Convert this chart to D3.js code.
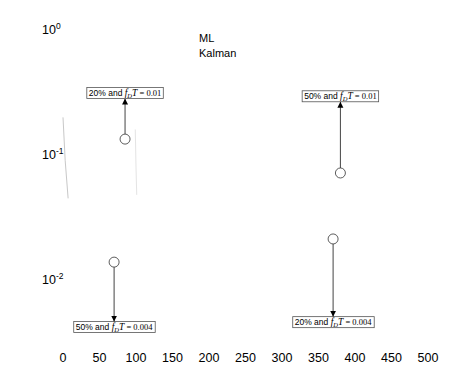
<!DOCTYPE html>
<html><head><meta charset="utf-8">
<script src="https://cdn.jsdelivr.net/npm/d3@7"></script>
<style>body{margin:0;background:#fff}svg{display:block}</style>
</head><body><svg id="c" width="474" height="391"></svg>
<script>
const xTicks = [0,50,100,150,200,250,300,350,400,450,500];
const yTickExps = [0,-1,-2];
const seriesNames = ["ML","Kalman"];
const mlX = [0,3,7];
const mlY = [0.2,0.09,0.045];
const kalmanX = [99,100,101];
const kalmanY = [0.16,0.08,0.048];
const annX = [85,380,70,370];
const annY = [0.134,0.0718,0.0139,0.0213];
const labelY = [0.313,0.295,0.0042,0.0046];
const labelPct = ["20%","50%","50%","20%"];
const labelVal = ["0.01","0.01","0.004","0.004"];

const svg = d3.select("#c");
const x = d3.scaleLinear().domain([0,500]).range([63,428]);
const y = d3.scaleLog().domain([Math.pow(10,-2.5),1]).range([342.5,30]);

// x tick labels
svg.append("g").selectAll("text").data(xTicks).join("text")
  .attr("x",d=>x(d)).attr("y",362).attr("text-anchor","middle")
  .attr("font-family","Liberation Sans, Arial, sans-serif").attr("font-size",12.5)
  .attr("fill","#000").text(d=>d);

// y tick labels
const yl = svg.append("g").selectAll("text").data(yTickExps).join("text")
  .attr("x",42).attr("y",d=>y(Math.pow(10,d))+4)
  .attr("font-family","Liberation Sans, Arial, sans-serif").attr("font-size",12.5).attr("fill","#000");
yl.append("tspan").text("10");
yl.append("tspan").attr("dy",-5).attr("font-size",8.5).text(d=>d);

// faint series
const line = d3.line().x(d=>x(d[0])).y(d=>y(d[1]));
svg.append("path").datum(d3.zip(mlX,mlY)).attr("d",line).attr("fill","none").attr("stroke","#c8c8c8").attr("stroke-width",1);
svg.append("path").datum(d3.zip(kalmanX,kalmanY)).attr("d",line).attr("fill","none").attr("stroke","#e4e4e4").attr("stroke-width",1);

// legend
svg.append("g").selectAll("text").data(seriesNames).join("text")
  .attr("x",199).attr("y",(d,i)=>42+i*15)
  .attr("font-family","Liberation Sans, Arial, sans-serif").attr("font-size",11).attr("fill","#000").text(d=>d);

// arrow marker
svg.append("defs").append("marker").attr("id","ah").attr("viewBox","0 0 10 10")
  .attr("refX",10).attr("refY",5).attr("markerWidth",6).attr("markerHeight",7).attr("orient","auto")
  .append("path").attr("d","M0,0L10,5L0,10Z").attr("fill","#000");

const ann = svg.append("g");
annX.forEach((ax,i)=>{
  const cx = x(ax), cy = y(annY[i]);
  const ly = y(labelY[i]);
  const up = ly < cy;
  const bh = 11;
  const boxEdge = up ? ly+bh/2 : ly-bh/2;
  ann.append("line").attr("x1",cx).attr("y1",up?cy-5:cy+5).attr("x2",cx).attr("y2",boxEdge)
    .attr("stroke","#444").attr("stroke-width",1).attr("marker-end","url(#ah)");
  ann.append("circle").attr("cx",cx).attr("cy",cy).attr("r",5).attr("fill","#fff").attr("stroke","#333").attr("stroke-width",0.8);
  const t = ann.append("text").attr("x",cx).attr("y",ly+3).attr("text-anchor","middle").attr("font-size",8.5).attr("fill","#000");
  t.append("tspan").attr("font-family","Liberation Sans, Arial, sans-serif").text(labelPct[i]+" and ");
  t.append("tspan").attr("font-family","Liberation Serif, Times New Roman, serif").attr("font-style","italic").attr("font-size",9.5).text("f");
  t.append("tspan").attr("font-family","Liberation Serif, Times New Roman, serif").attr("font-style","italic").attr("font-size",6.5).attr("dy",2).text("D");
  t.append("tspan").attr("font-family","Liberation Serif, Times New Roman, serif").attr("font-style","italic").attr("font-size",9.5).attr("dy",-2).text("T");
  t.append("tspan").attr("font-family","Liberation Serif, Times New Roman, serif").attr("font-size",8.5).text(" = "+labelVal[i]);
  const bb = t.node().getBBox();
  ann.insert("rect","text").attr("x",bb.x-2).attr("y",ly-bh/2).attr("width",bb.width+4).attr("height",bh)
    .attr("fill","#fff").attr("stroke","#555").attr("stroke-width",0.8);
});
// ensure text above rects
ann.selectAll("text").raise();
</script></body></html>
